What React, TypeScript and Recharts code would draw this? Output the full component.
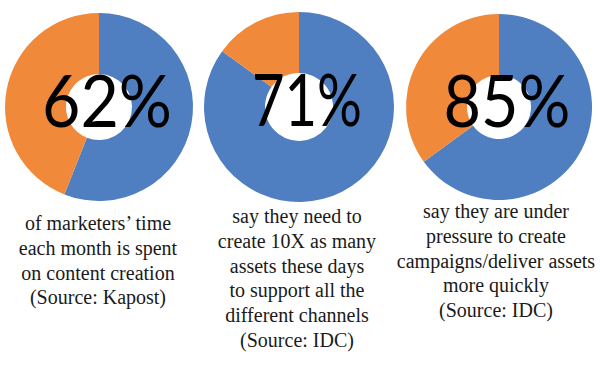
import React from 'react';
import { PieChart, Pie, Cell } from 'recharts';

const bigLabels = ['62%', '71%', '85%'];
const primaryShare = [56, 85, 65];
const otherShare = [44, 15, 35];
const captions1 = ['of marketers\u2019 time', 'each month is spent', 'on content creation', '(Source: Kapost)'];
const captions2 = ['say they need to', 'create 10X as many', 'assets these days', 'to support all the', 'different channels', '(Source: IDC)'];
const captions3 = ['say they are under', 'pressure to create', 'campaigns/deliver assets', 'more quickly', '(Source: IDC)'];

const BLUE = '#4f7ec1';
const ORANGE = '#f0893a';

const W = 600;
const H = 374;

const donuts = [
  { cx: 99, cy: 107, outer: 94, inner: 33 },
  { cx: 299, cy: 107, outer: 95, inner: 34 },
  { cx: 499, cy: 107, outer: 93, inner: 32 },
];

const bigPos = [
  { x: 107, y: 127, w: 130 },
  { x: 307, y: 126, w: 110 },
  { x: 507, y: 127, w: 127 },
];

const captionBlocks = [
  { lines: captions1, x: 98, y0: 230 },
  { lines: captions2, x: 297, y0: 223 },
  { lines: captions3, x: 496, y0: 218 },
];

export default function App() {
  return (
    <div style={{ position: 'absolute', left: 0, top: 0, width: W, height: H, background: '#fff' }}>
      <PieChart width={W} height={H} margin={{ top: 0, right: 0, bottom: 0, left: 0 }}>
        {donuts.map((d, i) => (
          <Pie
            key={i}
            data={[
              { name: 'yes', value: primaryShare[i] },
              { name: 'no', value: otherShare[i] },
            ]}
            dataKey="value"
            cx={d.cx}
            cy={d.cy}
            innerRadius={d.inner}
            outerRadius={d.outer}
            startAngle={90}
            endAngle={-270}
            stroke="none"
            isAnimationActive={false}
          >
            <Cell fill={BLUE} stroke="none" />
            <Cell fill={ORANGE} stroke="none" />
          </Pie>
        ))}
      </PieChart>
      <svg
        width={W}
        height={H}
        style={{ position: 'absolute', left: 0, top: 0, pointerEvents: 'none' }}
      >
        {bigLabels.map((t, i) => (
          <text
            key={t}
            x={bigPos[i].x}
            y={bigPos[i].y}
            textAnchor="middle"
            fontFamily="Lato, 'Open Sans', sans-serif"
            fontSize={71}
            textLength={bigPos[i].w}
            lengthAdjust="spacingAndGlyphs"
            fill="#000"
          >
            {t}
          </text>
        ))}
        {captionBlocks.map((b, bi) =>
          b.lines.map((line, li) => (
            <text
              key={bi + '-' + li}
              x={b.x}
              y={b.y0 + li * 24.8}
              textAnchor="middle"
              fontFamily="'Liberation Serif', serif"
              fontSize={20}
              fill="#1a1a1a"
            >
              {line}
            </text>
          ))
        )}
      </svg>
    </div>
  );
}
